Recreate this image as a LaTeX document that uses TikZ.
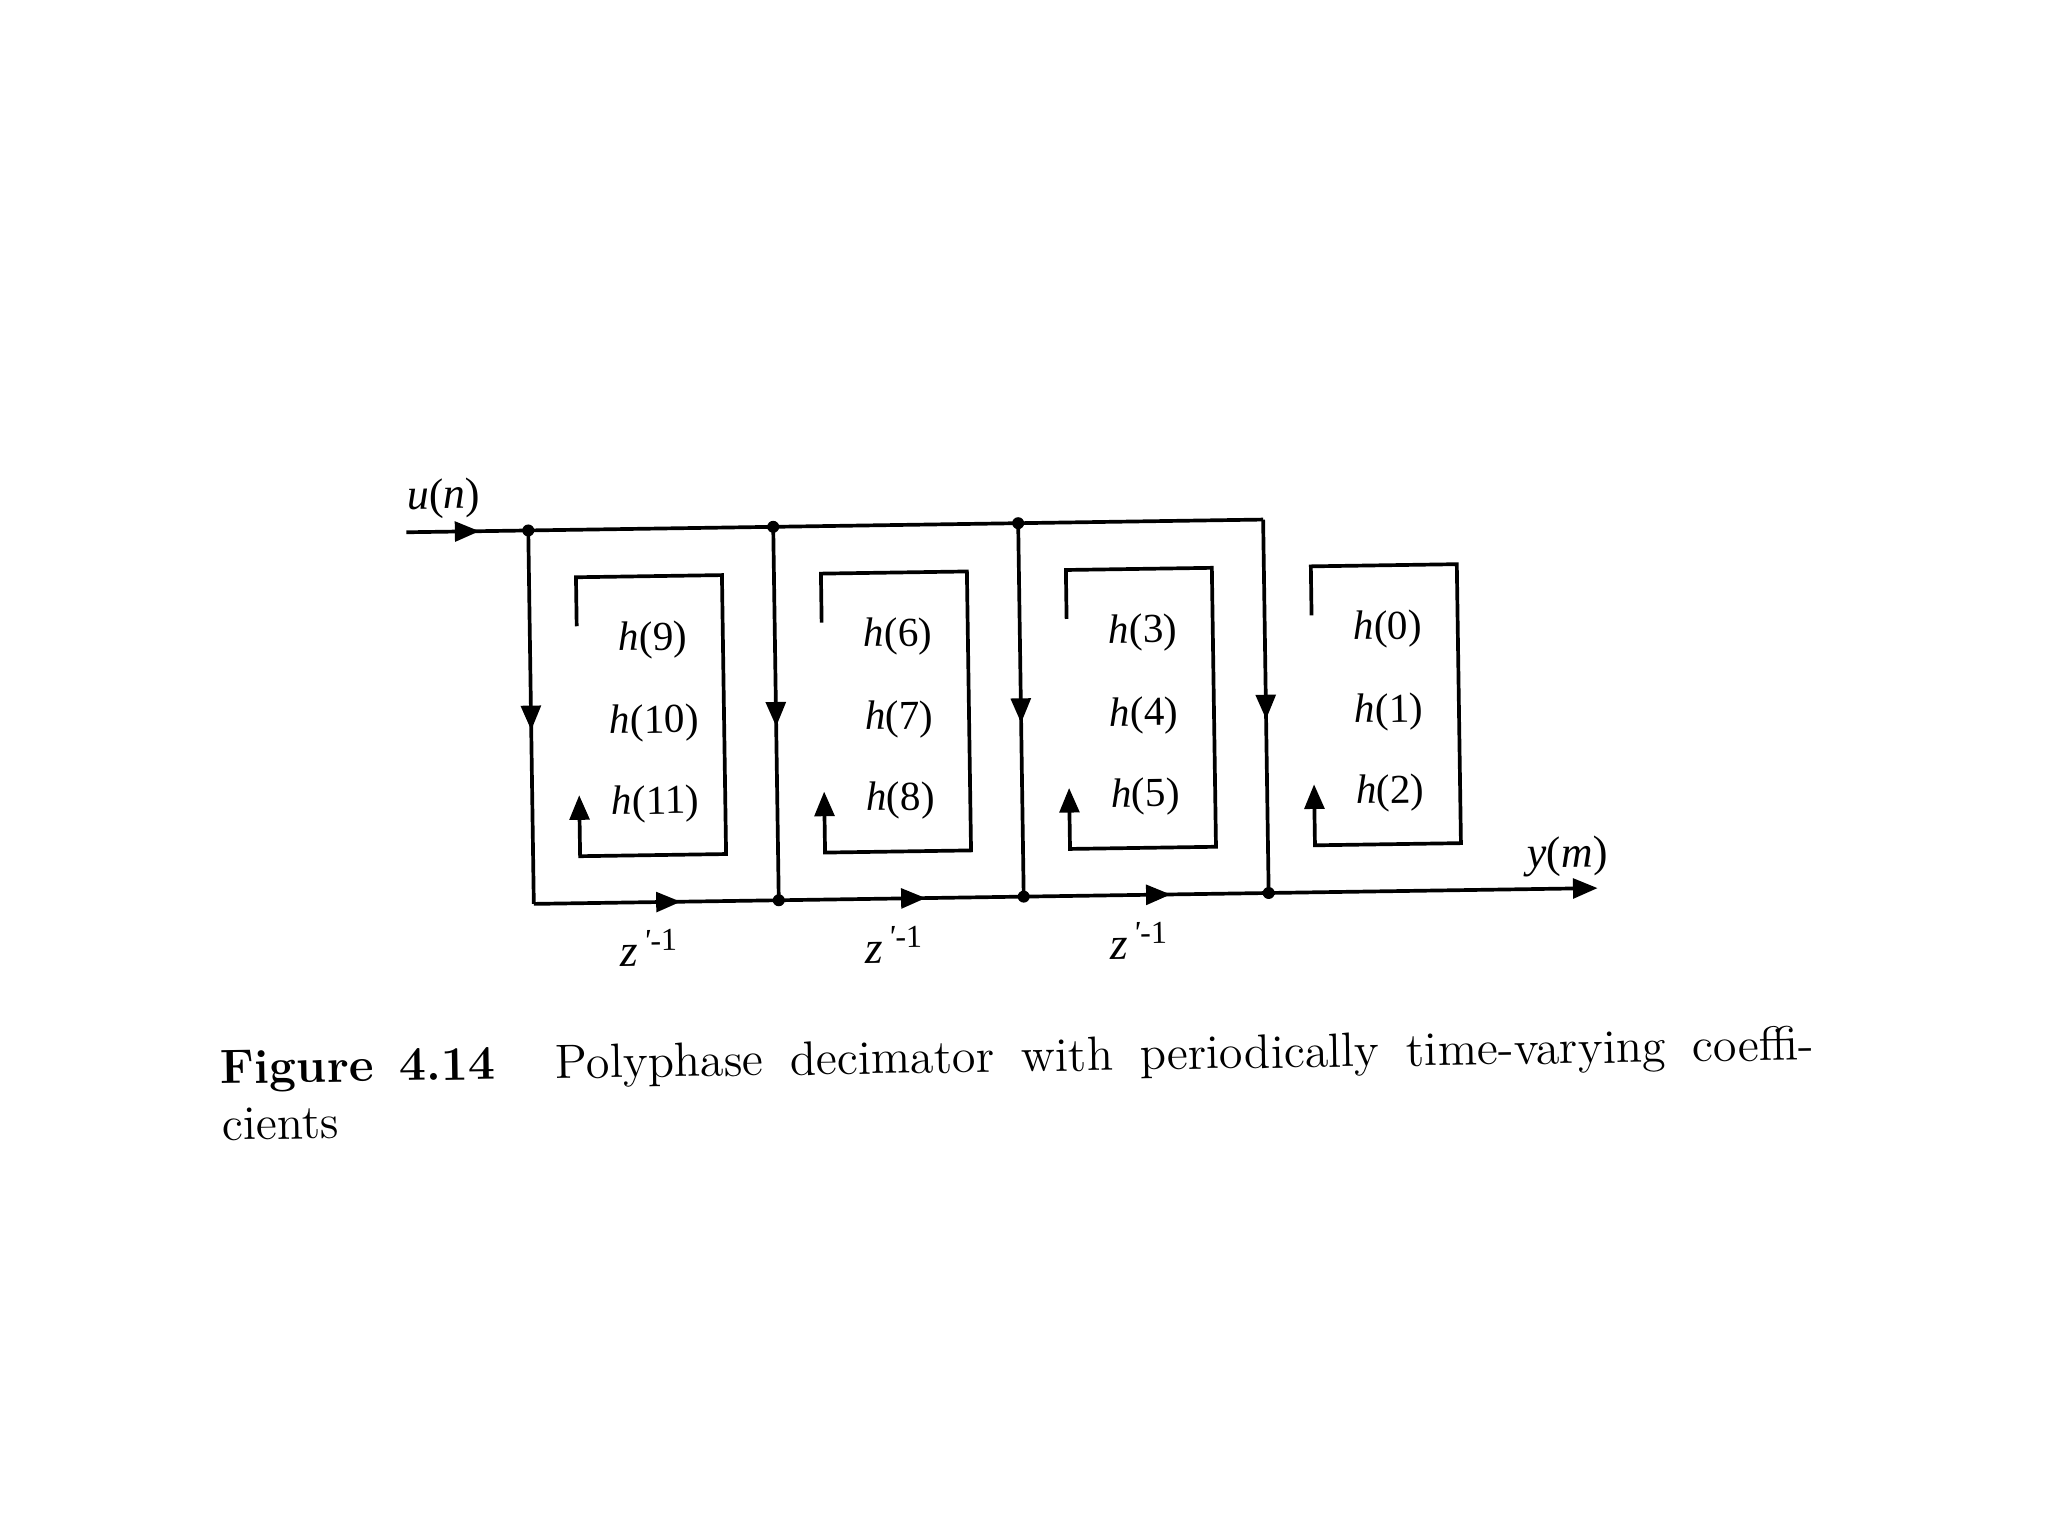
\documentclass[tikz,border=0pt]{standalone}
\usepackage{fontspec}
\newfontfamily\tms{Liberation Serif}
\usetikzlibrary{arrows.meta,decorations.markings}
\begin{document}
\begin{tikzpicture}[x=0.01cm,y=-0.01cm,
  wire/.style={line width=1.05pt},
  >={Triangle[length=7pt,width=5.6pt]},
  midarrow/.style={decoration={markings,mark=at position #1 with {\arrow{>}}},postaction={decorate}},
  hlab/.style={inner sep=0pt,font=\tms\fontsize{11.7}{13}\selectfont},
  sig/.style={inner sep=0pt,font=\tms\fontsize{12.5}{14}\selectfont},
  zlab/.style={inner sep=0pt,font=\tms\fontsize{13}{15}\selectfont},
  captext/.style={inner sep=0pt,anchor=base west,font=\fontsize{13.7}{16}\selectfont},
  junction/.style={circle,fill,inner sep=0pt,minimum size=0.12cm}]
\useasboundingbox (0,0) rectangle (2048,1536);
\begin{scope}[rotate around={0.85:(1000,710)}, transform shape]
  % main junctions
  \coordinate (in) at (409,523.5);
  \coordinate (out) at (1595,897);
  \foreach \k/\x in {1/531,2/776,3/1021,4/1266}{
    \coordinate (t\k) at (\x,523.5);
    \coordinate (b\k) at (\x,897);
  }
  \node[junction] (dt1) at (t1) {};
  \node[junction] (dt2) at (t2) {};
  \node[junction] (dt3) at (t3) {};
  \node[junction] (db2) at (b2) {};
  \node[junction] (db3) at (b3) {};
  \node[junction] (db4) at (b4) {};
  % input and top rail
  \draw[wire,midarrow=0.6] (in) -- (t1);
  \draw[wire] (t1) -- (t2) -- (t3) -- (t4);
  % vertical branches
  \foreach \k in {1,2,3,4}{
    \draw[wire,midarrow=0.535] (t\k) -- (b\k);
  }
  % bottom rail with delays
  \draw[wire,midarrow=0.6] (b1) -- (b2);
  \draw[wire,midarrow=0.6] (b2) -- (b3);
  \draw[wire,midarrow=0.6] (b3) -- (b4);
  \draw[wire,->] (b4) -- (out);
  % commutator loops and coefficients
  \foreach \k/\x/\a/\b/\c in {1/531/9/10/11, 2/776/6/7/8, 3/1021/3/4/5, 4/1266/0/1/2}{
    \coordinate (s\k) at (\x+47,620);
    \coordinate (tl\k) at (\x+47,571);
    \coordinate (tr\k) at (\x+193,571);
    \coordinate (br\k) at (\x+193,850);
    \coordinate (bl\k) at (\x+47,850);
    \coordinate (e\k) at (\x+47,789);
    \draw[wire,->] (s\k) -- (tl\k) -- (tr\k) -- (br\k) -- (bl\k) -- (e\k);
    \node[hlab] (ha\k) at (\x+123,635) {\textit{h}(\a)};
    \node[hlab] (hb\k) at (\x+123,718) {\textit{h}(\b)};
    \node[hlab] (hc\k) at (\x+123,799) {\textit{h}(\c)};
  }
  % delay labels
  \foreach \k/\x in {1/646,2/891,3/1136}{
    \node[zlab] (z\k) at (\x,943) {\textit{z}\textsuperscript{\,\textit{'}-1}};
  }
  % signal labels
  \node[sig] (un) at (447,490) {\textit{u}(\textit{n})};
  \node[sig] (ym) at (1565,865) {\textit{y}(\textit{m})};
  % caption
  \node[captext] (fig) at (214.5,1072) {\makebox[2.75cm][s]{\bfseries Figure 4.14}};
  \node[captext] (cap1) at (549.6,1072) {\makebox[12.584cm][s]{Polyphase decimator with periodically time-varying coeffi-}};
  \node[captext] (cap2) at (215.6,1128.5) {cients};
\end{scope}
\end{tikzpicture}
\end{document}
